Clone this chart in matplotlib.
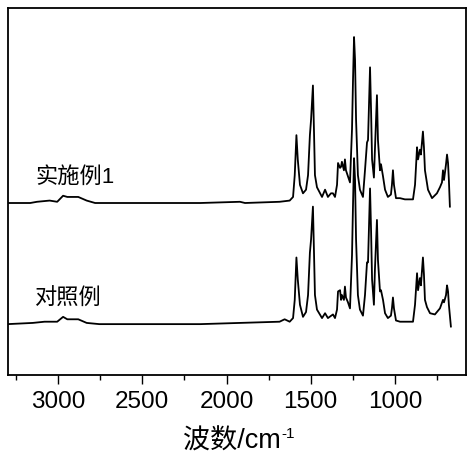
import matplotlib
matplotlib.use("Agg")
import matplotlib.pyplot as plt
from matplotlib.ticker import MultipleLocator

plt.rcParams['font.family'] = ['Liberation Sans', 'Noto Sans CJK SC', 'DejaVu Sans']

# Example 1 (实施例1) spectrum: wavenumber (cm-1) and absorbance (a.u.)
wn_example = [3300, 3165, 3125, 3050, 3005, 2970, 2945, 2915, 2880, 2830, 2780, 2455, 2155, 1920, 1890,
              1685, 1625, 1605, 1595, 1585, 1577, 1564, 1546, 1528, 1516, 1505, 1498, 1487, 1481, 1475,
              1463, 1433, 1415, 1398, 1380, 1368, 1356, 1344, 1338, 1326, 1320, 1315, 1303, 1297, 1291,
              1279, 1267, 1255, 1249, 1243, 1237, 1231, 1220, 1208, 1190, 1178, 1166, 1160, 1148, 1142,
              1136, 1125, 1119, 1107, 1101, 1089, 1083, 1071, 1059, 1042, 1024, 1018, 1012, 1006, 994,
              970, 941, 893, 881, 869, 863, 852, 846, 834, 828, 822, 804, 780, 751, 733,
              721, 715, 709, 697, 691, 685, 680, 674]
abs_example = [-0.01, -0.01, 0.00, 0.01, 0.00, 0.05, 0.04, 0.04, 0.04, 0.01, -0.01, -0.01, -0.01, 0.00, -0.01,
               0.00, 0.01, 0.04, 0.22, 0.55, 0.35, 0.14, 0.07, 0.10, 0.22, 0.55, 0.68, 0.96, 0.60, 0.22,
               0.12, 0.04, 0.10, 0.04, 0.07, 0.07, 0.04, 0.14, 0.32, 0.28, 0.29, 0.33, 0.26, 0.35, 0.26,
               0.21, 0.16, 0.60, 1.01, 1.36, 1.17, 0.68, 0.22, 0.10, 0.04, 0.26, 0.49, 0.51, 1.11, 0.76,
               0.35, 0.20, 0.43, 0.88, 0.51, 0.26, 0.31, 0.21, 0.10, 0.04, 0.06, 0.14, 0.26, 0.14, 0.03,
               0.03, 0.02, 0.02, 0.14, 0.45, 0.35, 0.43, 0.39, 0.58, 0.45, 0.26, 0.10, 0.03, 0.07, 0.12,
               0.16, 0.26, 0.18, 0.31, 0.39, 0.32, 0.18, -0.04]

# Control (对照例) spectrum
wn_control = [3300, 3150, 3080, 3005, 2970, 2945, 2925, 2880, 2830, 2755, 2155, 1685, 1655, 1625, 1605,
              1595, 1585, 1577, 1564, 1546, 1528, 1516, 1505, 1498, 1487, 1481, 1475, 1463, 1433, 1415,
              1398, 1368, 1356, 1344, 1338, 1326, 1320, 1315, 1303, 1297, 1291, 1279, 1267, 1255, 1249,
              1243, 1237, 1231, 1220, 1208, 1190, 1178, 1166, 1160, 1148, 1142, 1136, 1125, 1119, 1107,
              1101, 1089, 1083, 1071, 1059, 1042, 1024, 1018, 1012, 1006, 994, 970, 893, 881, 869,
              863, 852, 846, 834, 828, 822, 810, 792, 763, 733, 715, 709, 697, 691, 685,
              680, 668]
abs_control = [-0.01, 0.00, 0.01, 0.01, 0.05, 0.03, 0.03, 0.03, 0.00, -0.01, -0.01, 0.01, 0.03, 0.01, 0.04,
               0.19, 0.54, 0.36, 0.15, 0.05, 0.09, 0.23, 0.58, 0.69, 0.96, 0.60, 0.23, 0.11, 0.04, 0.08,
               0.04, 0.07, 0.04, 0.11, 0.26, 0.27, 0.19, 0.23, 0.19, 0.30, 0.21, 0.17, 0.12, 0.56, 0.98,
               1.36, 1.18, 0.69, 0.23, 0.11, 0.06, 0.23, 0.50, 0.50, 1.11, 0.77, 0.36, 0.15, 0.44, 0.85,
               0.52, 0.26, 0.27, 0.19, 0.08, 0.04, 0.06, 0.12, 0.21, 0.12, 0.02, 0.01, 0.01, 0.15, 0.41,
               0.27, 0.37, 0.31, 0.54, 0.40, 0.19, 0.13, 0.08, 0.07, 0.12, 0.19, 0.17, 0.23, 0.31, 0.26,
               0.15, -0.03]

labels = ['实施例1', '对照例']
offsets = [1.0, 0.0]
x_ticks = [3000, 2500, 2000, 1500, 1000]

fig = plt.figure(figsize=(4.74, 4.59), dpi=100)
ax = fig.add_axes([0.0169, 0.183, 0.966, 0.7996])

ax.plot(wn_example, [a + offsets[0] for a in abs_example], color='black', lw=1.3)
ax.plot(wn_control, [a + offsets[1] for a in abs_control], color='black', lw=1.3)

ax.text(3135, offsets[0] + 0.112, labels[0], fontsize=16, ha='left', va='bottom')
ax.text(3135, offsets[1] + 0.112, labels[1], fontsize=16, ha='left', va='bottom')

ax.set_xlim(3297, 579)
ax.set_ylim(-0.43, 2.60)
ax.set_xticks(x_ticks)
ax.set_xticklabels([str(t) for t in x_ticks])
ax.xaxis.set_minor_locator(MultipleLocator(250))
ax.tick_params(axis='x', which='major', direction='out', length=6.5, width=1.0, labelsize=17.5, pad=5)
ax.tick_params(axis='x', which='minor', direction='out', length=3.5, width=1.0)
ax.set_yticks([])
for s in ax.spines.values():
    s.set_linewidth(1.3)
ax.set_xlabel('波数/cm', fontsize=19.5)
ax.xaxis.set_label_coords(0.488, -0.145)

fig.canvas.draw()
bb = ax.xaxis.label.get_window_extent()
W, H = fig.get_size_inches() * fig.dpi
fig.text((bb.x1 + 1) / W, (bb.y1 + 1) / H, '-1', fontsize=11, ha='left', va='top')

fig.savefig('out.png', dpi=100)
